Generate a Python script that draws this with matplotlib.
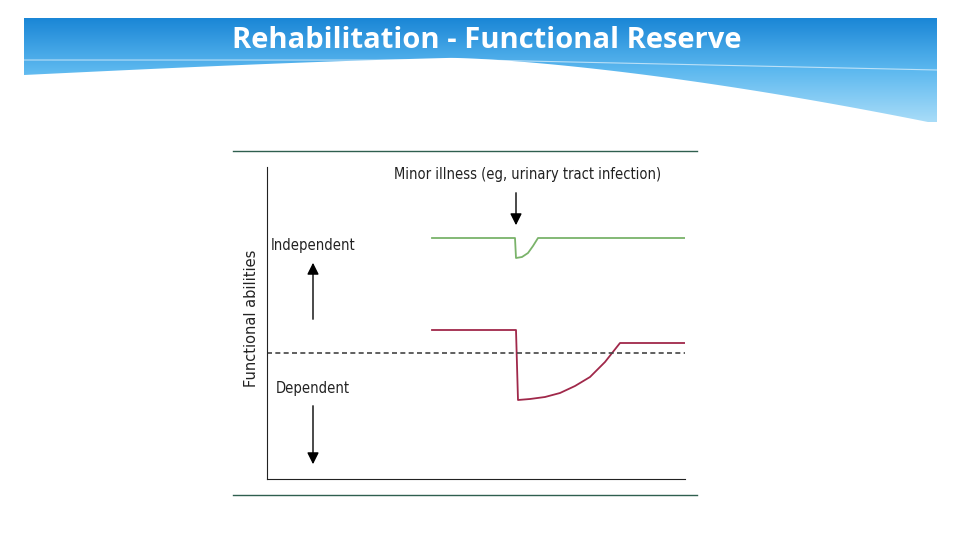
import matplotlib
matplotlib.use("Agg")
import matplotlib.pyplot as plt
import numpy as np
from matplotlib.patches import Polygon
from matplotlib.colors import LinearSegmentedColormap

# data (pixel-space schematic values)
green_x = [432, 515, 516, 522, 528, 533, 538, 685]
green_y = [238, 238, 258, 257, 253, 246, 238, 238]
red_x = [432, 516, 518, 530, 545, 560, 575, 590, 605, 620, 685]
red_y = [330, 330, 400, 399, 397, 393, 386, 377, 362, 343, 343]
threshold_y = 353
title = "Rehabilitation - Functional Reserve"

fig = plt.figure(figsize=(9.6, 5.4), dpi=100)
W, H = 960, 540

bg = fig.add_axes([0, 0, 1, 1]); bg.set_xlim(0, W); bg.set_ylim(H, 0); bg.axis("off")
grad = np.linspace(0, 1, 256).reshape(-1, 1)
cm = LinearSegmentedColormap.from_list("b", ["#1a86d6", "#5cb8ef", "#a8dcf8"])
im = bg.imshow(grad, cmap=cm, extent=[24, 937, 122, 18], aspect="auto", zorder=1)
xs = np.linspace(24, 937, 200)
t = (xs - 24) / 913
bottom = 75 - 20*np.sin(t*np.pi*0.7) + 65*np.clip((xs-450)/487, 0, 1)**1.3
clip = Polygon(list(zip(xs, bottom)) + [(937, 18), (24, 18)], closed=True, transform=bg.transData)
im.set_clip_path(clip)
bg.plot(xs, 60 + 10*np.clip((xs-480)/457, 0, 1), color="white", lw=0.8, alpha=0.6, zorder=2)
bg.text(487, 40, title, ha="center", va="center", color="white", fontsize=21,
        fontweight="bold", family="Open Sans", zorder=3)
for y in (151, 495):
    bg.plot([233, 697], [y, y], color="#2f5f4f", lw=1)

ax = fig.add_axes([267/W, (H-479)/H, 418/W, 312/H])
ax.set_xlim(267, 685); ax.set_ylim(479, 167)
for s in ("top", "right"):
    ax.spines[s].set_visible(False)
ax.spines["left"].set_color("#222"); ax.spines["bottom"].set_color("#222")
ax.set_xticks([]); ax.set_yticks([])
ax.plot(green_x, green_y, color="#7ab36a", lw=1.3)
ax.plot(red_x, red_y, color="#a0284a", lw=1.3)
ax.plot([267, 685], [threshold_y]*2, color="#444", lw=1.2, ls=(0, (3, 2)))
ap = dict(arrowstyle="-|>,head_width=0.35,head_length=0.7", color="black", lw=1)
ax.annotate("", xy=(313, 260), xytext=(313, 322), arrowprops=ap, annotation_clip=False)
ax.annotate("", xy=(313, 467), xytext=(313, 403), arrowprops=ap, annotation_clip=False)
ax.annotate("", xy=(516, 228), xytext=(516, 190), arrowprops=ap, annotation_clip=False)
kw = dict(fontsize=10.5, color="#222", fontstretch="condensed", family="Liberation Sans Narrow")
ax.text(313, 245, "Independent", ha="center", va="center", **kw)
ax.text(313, 388, "Dependent", ha="center", va="center", **kw)
ax.text(528, 174, "Minor illness (eg, urinary tract infection)", ha="center", va="center", **kw)
ax.text(252, 318, "Functional abilities", rotation=90, ha="center", va="center", fontsize=10.5, color="#222", clip_on=False)

fig.savefig("out.png", dpi=100)
